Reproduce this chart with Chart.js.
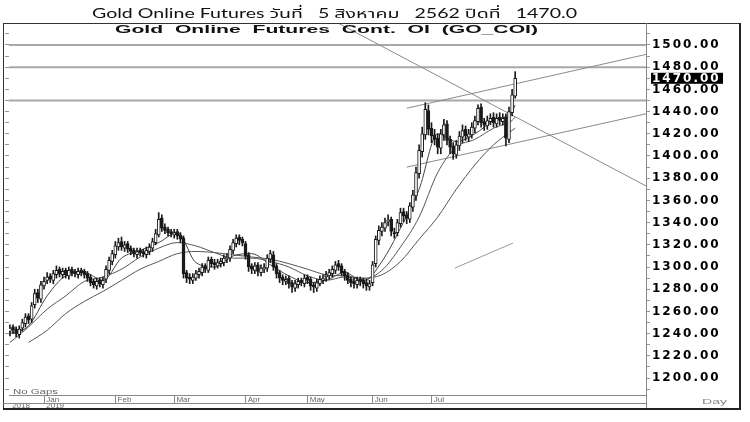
<!DOCTYPE html>
<html><head><meta charset="utf-8">
<script src="https://cdn.jsdelivr.net/npm/chart.js@4/dist/chart.umd.min.js"></script>
<style>html,body{margin:0;padding:0;background:#fff;}canvas{display:block;}</style>
</head><body>
<canvas id="c" width="750" height="422"></canvas>
<script>
// ---- data ----
const titleText = 'Gold Online Futures วันที่   5 สิงหาคม   2562 ปิดที่   1470.0';
const subtitleText = 'Gold  Online  Futures  Cont.  OI  (GO_COI)';

const opens = [1242,1246,1244,1239,1245,1249,1256,1253,1266,1277,
 1271,1283,1288,1292,1288,1293,1298,1293,1297,1292,
 1298,1296,1293,1297,1296,1294,1291,1287,1283,1288,
 1284,1289,1297,1305,1311,1318,1323,1317,1321,1317,
 1315,1311,1315,1314,1311,1314,1317,1322,1329,1344,
 1336,1334,1332,1329,1332,1329,1326,1295,1291,1288,
 1290,1293,1295,1301,1297,1307,1304,1301,1303,1304,
 1307,1308,1315,1321,1327,1325,1321,1311,1301,1297,
 1302,1295,1298,1299,1307,1311,1301,1295,1291,1287,
 1290,1286,1281,1284,1288,1285,1291,1289,1284,1281,
 1285,1288,1291,1292,1294,1297,1303,1301,1296,1293,
 1289,1287,1284,1289,1288,1286,1282,1286,1303,1324,
 1332,1335,1341,1343,1331,1331,1339,1350,1347,1343,
 1354,1364,1384,1404,1419,1441,1425,1419,1416,1407,
 1419,1429,1415,1409,1401,1409,1417,1424,1417,1419,
 1425,1431,1444,1431,1427,1431,1435,1429,1435,1431,
 1435,1415,1439,1454];
const highs = [1248,1248,1246,1247,1253,1258,1258,1268,1280,1280,
 1287,1291,1295,1294,1297,1301,1300,1299,1299,1300,
 1300,1298,1299,1299,1298,1296,1293,1289,1290,1290,
 1291,1301,1309,1315,1323,1326,1327,1323,1323,1319,
 1317,1317,1317,1316,1318,1321,1326,1334,1349,1347,
 1339,1336,1334,1334,1334,1331,1328,1297,1294,1294,
 1297,1299,1303,1303,1309,1309,1307,1307,1308,1311,
 1312,1319,1325,1329,1329,1327,1323,1313,1303,1304,
 1304,1302,1303,1311,1315,1314,1303,1297,1293,1292,
 1292,1288,1288,1290,1290,1293,1293,1291,1286,1289,
 1292,1293,1296,1298,1301,1305,1306,1303,1298,1295,
 1291,1290,1291,1291,1290,1289,1288,1305,1328,1337,
 1340,1344,1347,1345,1335,1343,1353,1353,1350,1358,
 1369,1390,1410,1426,1448,1446,1430,1424,1420,1424,
 1433,1432,1418,1412,1414,1422,1428,1427,1424,1430,
 1436,1446,1447,1434,1436,1438,1439,1438,1439,1438,
 1438,1444,1460,1476];
const lows = [1238,1240,1237,1236,1242,1246,1249,1250,1263,1268,
 1268,1280,1285,1286,1285,1290,1291,1290,1290,1289,
 1292,1291,1290,1292,1290,1287,1283,1281,1280,1282,
 1281,1286,1294,1302,1308,1315,1315,1314,1313,1311,
 1309,1308,1310,1309,1308,1311,1314,1320,1327,1332,
 1330,1328,1327,1326,1325,1322,1290,1286,1285,1285,
 1288,1290,1292,1295,1295,1300,1298,1299,1300,1301,
 1304,1305,1312,1318,1320,1319,1307,1296,1294,1294,
 1292,1292,1295,1296,1304,1297,1290,1286,1284,1284,
 1281,1277,1278,1281,1283,1282,1285,1279,1277,1278,
 1283,1285,1287,1289,1291,1294,1297,1292,1288,1285,
 1282,1281,1281,1283,1281,1279,1279,1283,1300,1320,
 1328,1332,1337,1328,1326,1328,1336,1341,1339,1340,
 1350,1360,1380,1399,1415,1419,1412,1410,1402,1402,
 1414,1410,1402,1397,1398,1405,1412,1414,1413,1416,
 1421,1428,1426,1423,1424,1428,1426,1426,1428,1428,
 1409,1412,1436,1452];
const closes = [1245,1243,1240,1244,1250,1255,1252,1265,1276,1272,
 1284,1287,1291,1289,1294,1297,1294,1296,1293,1297,
 1295,1294,1296,1295,1293,1290,1286,1284,1287,1285,
 1288,1298,1306,1312,1319,1322,1318,1320,1316,1314,
 1312,1314,1313,1312,1315,1318,1323,1330,1343,1335,
 1333,1331,1330,1331,1328,1325,1294,1290,1289,1291,
 1294,1296,1300,1298,1306,1303,1302,1304,1305,1308,
 1309,1316,1322,1326,1324,1322,1310,1300,1298,1301,
 1296,1299,1300,1308,1312,1300,1294,1290,1288,1289,
 1285,1282,1285,1287,1286,1290,1288,1283,1282,1286,
 1289,1290,1293,1295,1298,1302,1300,1295,1292,1288,
 1286,1285,1288,1287,1285,1283,1285,1302,1325,1333,
 1336,1340,1342,1332,1330,1340,1349,1346,1344,1355,
 1365,1385,1405,1420,1442,1424,1418,1415,1408,1420,
 1428,1414,1408,1402,1410,1418,1423,1418,1420,1426,
 1432,1443,1430,1428,1432,1434,1430,1434,1432,1434,
 1416,1440,1455,1470];

// moving averages, read at every 6th bar
const maIdx   = [0,6,12,18,24,30,36,42,48,54,60,66,72,78,84,90,96,102,108,114,120,126,132,138,144,150,156,162,163];
const maShort = [1240,1247,1274,1292,1295,1288,1308,1315,1322,1331,1304,1300,1310,1312,1302,1292,1286,1288,1295,1287,1305,1335,1370,1420,1413,1420,1432,1440,1446];
const maMid   = [1232,1246,1262,1274,1287,1291,1298,1309,1317,1322,1319,1313,1308,1308,1305,1300,1292,1288,1291,1289,1297,1318,1345,1385,1408,1415,1425,1432,1435];
const maLong  = [null,1232,1243,1258,1269,1278,1288,1298,1305,1312,1314,1313,1311,1309,1307,1303,1298,1293,1292,1290,1293,1305,1325,1345,1370,1392,1410,1423,1425];

// drawn trend lines: [x1, y1, x2, y2] in bar index / price
const hLevels   = [1500, 1480, 1450];
const trendDown = [106, 1519.5, 205.2, 1373];
const chanUpper = [128, 1443, 205.2, 1491.5];
const chanLower = [128, 1390, 205.2, 1438];
const shortLine = [143.5, 1299, 162.3, 1321.6];

// x axis ticks
const xTickIdx    = [0, 11, 34, 53, 76, 96, 117, 136];
const monthLabels = ['', 'Jan', 'Feb', 'Mar', 'Apr', 'May', 'Jun', 'Jul'];
const yearLabels  = ['2018', '2019', '', '', '', '', '', ''];

const X_MIN = -0.3, X_MAX = 205.2, Y_MIN = 1184.7, Y_MAX = 1519.8;

// ---- build datasets ----
const ink = '#1a1a1a';
const wickData = closes.map((c, i) => ({x: i, y: [lows[i], highs[i]]}));
const bodyData = closes.map((c, i) => {
  let a = Math.min(opens[i], c), b = Math.max(opens[i], c);
  if (b - a < 0.6) b = a + 0.6;
  return {x: i, y: [a, b]};
});
const bodyColors = closes.map((c, i) => c >= opens[i] ? '#ffffff' : ink);
const maLine = (arr) => maIdx.map((x, k) => ({x, y: arr[k]}));
const seg = (s) => [{x: s[0], y: s[1]}, {x: s[2], y: s[3]}];

const lineBase = {type: 'line', pointRadius: 0, pointHoverRadius: 0, fill: false};
const datasets = [
  {type: 'bar', data: bodyData, backgroundColor: bodyColors, borderColor: ink, borderWidth: 1,
   borderSkipped: false, barThickness: 3, grouped: false, order: 1},
  {type: 'bar', data: wickData, backgroundColor: ink, barThickness: 1, grouped: false, order: 2},
  Object.assign({}, lineBase, {data: maLine(maShort), borderColor: '#444', borderWidth: 1, cubicInterpolationMode: 'monotone', order: 3}),
  Object.assign({}, lineBase, {data: maLine(maMid), borderColor: '#555', borderWidth: 1, cubicInterpolationMode: 'monotone', order: 3}),
  Object.assign({}, lineBase, {data: maLine(maLong), borderColor: '#555', borderWidth: 1, cubicInterpolationMode: 'monotone', order: 3}),
  Object.assign({}, lineBase, {data: seg(trendDown), borderColor: '#8a8a8a', borderWidth: 1, order: 4}),
  Object.assign({}, lineBase, {data: seg(chanUpper), borderColor: '#8a8a8a', borderWidth: 1, order: 4}),
  Object.assign({}, lineBase, {data: seg(chanLower), borderColor: '#8a8a8a', borderWidth: 1, order: 4}),
  Object.assign({}, lineBase, {data: seg(shortLine), borderColor: '#999', borderWidth: 1, order: 4}),
];
hLevels.forEach(v => datasets.push(Object.assign({}, lineBase,
  {data: [{x: X_MIN, y: v}, {x: X_MAX, y: v}], borderColor: '#a8a8a8', borderWidth: 2, order: 5})));

function fitText(ctx, text, x, y, width, font, color) {
  ctx.save();
  ctx.font = font; ctx.fillStyle = color; ctx.textAlign = 'left'; ctx.textBaseline = 'alphabetic';
  const w = ctx.measureText(text).width;
  ctx.translate(x, y); ctx.scale(width / w, 1);
  ctx.fillText(text, 0, 0);
  ctx.restore();
}

const decor = {
  id: 'decor',
  afterDatasetsDraw(chart) { chart.ctx.letterSpacing = '2px'; },
  afterDraw(chart) {
    const ctx = chart.ctx;
    ctx.letterSpacing = '0px';
    ctx.save();
    // frame
    ctx.strokeStyle = '#333'; ctx.lineWidth = 1;
    ctx.beginPath();
    ctx.moveTo(3, 23.5); ctx.lineTo(741, 23.5);
    ctx.moveTo(3.5, 23); ctx.lineTo(3.5, 409);
    ctx.stroke();
    ctx.strokeStyle = '#888';
    ctx.beginPath();
    ctx.moveTo(646.5, 23); ctx.lineTo(646.5, 409);
    ctx.moveTo(3, 403.5); ctx.lineTo(646, 403.5);
    ctx.stroke();
    ctx.strokeStyle = '#222'; ctx.lineWidth = 2;
    ctx.beginPath();
    ctx.moveTo(3, 409); ctx.lineTo(741, 409);
    ctx.moveTo(740, 23); ctx.lineTo(740, 410);
    ctx.stroke();
    // last price badge
    const yR = chart.scales.yR;
    const last = closes[closes.length - 1];
    const py = yR.getPixelForValue(last);
    ctx.fillStyle = '#000';
    ctx.fillRect(651, py - 5.5, 72, 11);
    ctx.letterSpacing = '2px';
    ctx.fillStyle = '#fff'; ctx.font = 'bold 12px "DejaVu Sans"';
    ctx.textBaseline = 'middle'; ctx.textAlign = 'left';
    ctx.fillText(last.toFixed(2), 652, py + 0.5);
    ctx.letterSpacing = '0px';
    ctx.restore();
    // texts
    fitText(ctx, titleText, 92, 18, 485, '13px Lato, "Noto Sans Thai", "Noto Sans", "DejaVu Sans", sans-serif', '#111');
    fitText(ctx, subtitleText, 115, 33, 423, 'bold 10px "Liberation Sans", Arial, sans-serif', '#111');
    fitText(ctx, 'No Gaps', 13, 394, 45, '7px "Liberation Sans", Arial, sans-serif', '#666');
    fitText(ctx, 'Day', 702, 404, 25, '8px "Liberation Sans", Arial, sans-serif', '#888');
  }
};

new Chart(document.getElementById('c'), {
  type: 'bar',
  data: {datasets},
  options: {
    responsive: false, animation: false, devicePixelRatio: 1,
    layout: {padding: {top: 23, left: 2, right: 9, bottom: 13}},
    plugins: {legend: {display: false}, tooltip: {enabled: false}, title: {display: false}},
    scales: {
      x: {
        type: 'linear', min: X_MIN, max: X_MAX, offset: false,
        afterBuildTicks: (s) => { s.ticks = xTickIdx.map(v => ({value: v})); },
        afterFit: (s) => { s.height = 14; },
        grid: {drawOnChartArea: false, offset: false, tickLength: 8,
               color: (c) => c.index === 0 ? 'rgba(0,0,0,0)' : '#888'},
        border: {color: '#888'},
        ticks: {autoSkip: false, maxRotation: 0, align: 'start', padding: -7, color: '#666',
                font: {family: '"Liberation Sans", Arial, sans-serif', size: 8, lineHeight: 0.85},
                callback: (v, i) => [' ' + monthLabels[i], ' ' + yearLabels[i]]}
      },
      y: {
        type: 'linear', position: 'left', min: Y_MIN, max: Y_MAX,
        afterFit: (s) => { s.width = 7; },
        grid: {drawOnChartArea: false, tickLength: 4, color: '#999'},
        border: {display: false},
        ticks: {display: false, stepSize: 10, includeBounds: false, autoSkip: false}
      },
      yR: {
        type: 'linear', position: 'right', min: Y_MIN, max: Y_MAX,
        afterFit: (s) => { s.width = 95; },
        grid: {drawOnChartArea: false, tickLength: 4, color: '#999'},
        border: {display: false},
        ticks: {stepSize: 10, includeBounds: false, autoSkip: false, padding: 2, color: '#000', z: 1,
                font: {family: '"DejaVu Sans"', weight: 'bold', size: 12},
                callback: (v) => (Math.round(v) % 20 === 0 ? v.toFixed(2) : '')}
      }
    }
  },
  plugins: [decor]
});
</script>
</body></html>
